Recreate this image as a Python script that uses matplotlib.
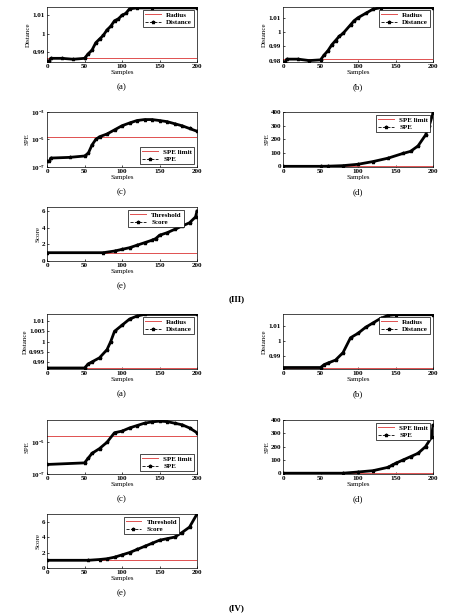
import matplotlib
matplotlib.use("Agg")
import matplotlib.pyplot as plt
import numpy as np

plt.rcParams['font.family'] = ['Liberation Serif', 'DejaVu Serif']
plt.rcParams['font.weight'] = 'bold'
plt.rcParams['font.size'] = 5

# ---- data (samples, values) ----
x_IIIa = [0, 3, 5, 20, 35, 50, 55, 60, 65, 70, 75, 80, 85, 90, 95, 100, 105, 110, 120, 140, 200]
d_IIIa = [0.985, 0.985, 0.9865, 0.9865, 0.986, 0.9865, 0.989, 0.991, 0.995, 0.997, 0.999, 1.002, 1.004, 1.007, 1.008, 1.010, 1.011, 1.0135, 1.014, 1.014, 1.014]
r_IIIa = 0.9866

x_IIIb = [0, 3, 5, 20, 35, 50, 55, 60, 65, 70, 75, 80, 90, 95, 100, 110, 120, 130, 200]
d_IIIb = [0.979, 0.979, 0.981, 0.981, 0.980, 0.9805, 0.984, 0.987, 0.991, 0.994, 0.997, 0.999, 1.005, 1.008, 1.010, 1.013, 1.016, 1.017, 1.017]
r_IIIb = 0.981

x_IIIc = [0, 3, 5, 30, 50, 55, 60, 65, 70, 80, 90, 100, 110, 120, 130, 140, 150, 160, 170, 180, 190, 200]
e_IIIc = [-6.6, -6.6, -6.35, -6.3, -6.2, -6.0, -5.4, -5.0, -4.8, -4.6, -4.3, -4.0, -3.8, -3.62, -3.55, -3.55, -3.62, -3.7, -3.85, -4.0, -4.2, -4.4]
lim_IIIc = -4.85

x_IIId = [0, 50, 60, 80, 100, 120, 140, 160, 170, 180, 190, 195, 200]
s_IIId = [0, 0, 1, 5, 15, 35, 60, 95, 110, 150, 230, 300, 390]
lim_IIId = 0

x_IIIe = [0, 75, 90, 100, 110, 120, 130, 140, 145, 150, 160, 170, 180, 190, 198, 200]
s_IIIe = [1, 1, 1.2, 1.4, 1.6, 1.9, 2.2, 2.5, 2.7, 3.1, 3.4, 3.8, 4.2, 4.6, 5.3, 6.0]
lim_IIIe = 1.0

x_IVa = [0, 50, 55, 60, 70, 80, 85, 90, 100, 110, 120, 130, 200]
d_IVa = [0.987, 0.987, 0.989, 0.990, 0.992, 0.996, 1.000, 1.005, 1.008, 1.011, 1.0125, 1.0133, 1.0133]
r_IVa = 0.987

x_IVb = [0, 50, 55, 60, 70, 80, 90, 100, 110, 120, 130, 140, 150, 200]
d_IVb = [0.982, 0.982, 0.984, 0.985, 0.987, 0.992, 1.002, 1.005, 1.009, 1.012, 1.015, 1.017, 1.0175, 1.0175]
r_IVb = 0.982

x_IVc = [0, 50, 55, 60, 70, 80, 90, 100, 110, 120, 130, 140, 150, 160, 170, 180, 190, 200]
e_IVc = [-6.4, -6.3, -6.0, -5.7, -5.4, -5.0, -4.4, -4.3, -4.1, -3.95, -3.8, -3.72, -3.67, -3.7, -3.8, -3.9, -4.1, -4.4]
lim_IVc = -4.58

x_IVd = [0, 80, 100, 120, 140, 145, 150, 160, 170, 180, 190, 198, 200]
s_IVd = [1, 1, 10, 20, 45, 60, 75, 100, 125, 150, 200, 270, 360]
lim_IVd = 0

x_IVe = [0, 55, 70, 80, 90, 100, 110, 120, 130, 140, 150, 160, 170, 180, 190, 200]
s_IVe = [1, 1, 1.1, 1.2, 1.4, 1.7, 2.0, 2.4, 2.8, 3.2, 3.6, 3.8, 4.0, 4.6, 5.3, 7.0]
lim_IVe = 1.0

W, H = 474, 616
fig = plt.figure(figsize=(W/100, H/100), dpi=100)

def ax_at(x0, y0, x1, y1):
    return fig.add_axes([x0/W, 1 - y1/H, (x1-x0)/W, (y1-y0)/H])

def panel(box, xs, ys, lim, ylabel, lname, sname, ylim, yticks, yticklabels=None,
          log=False, loc='upper right', anchor=None, letter=''):
    ax = ax_at(*box)
    xx = np.array(xs, float)
    yy = np.array(ys, float)
    if log:
        yy = 10**yy
        lim = 10**lim
    ax.plot([0, 200], [lim, lim], color='#e05050', lw=0.7, label=lname)
    ax.plot(xx, yy, color='black', lw=2.0, ls='-', marker='*', ms=2.5)
    ax.plot([], [], color='black', lw=0.6, ls='--', marker='*', ms=2.5, label=sname)
    if log:
        ax.set_yscale('log')
        ax.yaxis.set_minor_locator(matplotlib.ticker.NullLocator())
    ax.set_xlim(0, 200)
    ax.set_ylim(*ylim)
    ax.set_xticks([0, 50, 100, 150, 200])
    ax.set_yticks(yticks)
    if yticklabels is not None:
        ax.set_yticklabels(yticklabels)
    ax.tick_params(labelsize=5, length=1.5, width=0.5, pad=1.5, direction='in')
    ax.set_xlabel('Samples', fontsize=5, labelpad=1)
    ax.set_ylabel(ylabel, fontsize=5, labelpad=1)
    for s in ax.spines.values():
        s.set_linewidth(0.5)
    kw = dict(loc=loc)
    if anchor is not None:
        kw['bbox_to_anchor'] = anchor
    leg = ax.legend(fontsize=5, frameon=True, fancybox=False, framealpha=1,
                    edgecolor='black', borderpad=0.3, handlelength=2.2,
                    labelspacing=0.2, borderaxespad=0.4, **kw)
    leg.get_frame().set_linewidth(0.5)
    cx = (box[0] + box[2]) / 2
    fig.text(cx/W, 1 - (box[3] + 25)/H, letter, ha='center', va='center', fontsize=6.5, weight='normal')
    return ax

L = (47, 197); R = (283, 433)
# Group III
panel((L[0], 7, L[1], 62), x_IIIa, d_IIIa, r_IIIa, 'Distance', 'Radius', 'Distance',
      (0.9845, 1.0145), [0.99, 1.0, 1.01], ['0.99', '1', '1.01'], letter='(a)')
panel((R[0], 7, R[1], 62), x_IIIb, d_IIIb, r_IIIb, 'Distance', 'Radius', 'Distance',
      (0.979, 1.0175), [0.98, 0.99, 1.0, 1.01], ['0.98', '0.99', '1', '1.01'], letter='(b)')
panel((L[0], 112, L[1], 167), x_IIIc, e_IIIc, lim_IIIc, 'SPE', 'SPE limit', 'SPE',
      (1e-7, 1e-3), [1e-7, 1e-5, 1e-3], log=True, loc='lower right', letter='(c)')
panel((R[0], 112, R[1], 167), x_IIId, s_IIId, lim_IIId, 'SPE', 'SPE limit', 'SPE',
      (-5, 400), [0, 100, 200, 300, 400], letter='(d)')
panel((L[0], 207, L[1], 261), x_IIIe, s_IIIe, lim_IIIe, 'Score', 'Threshold', 'Score',
      (0, 6.5), [0, 2, 4, 6], loc='upper right', anchor=(0.93, 1.0), letter='(e)')
fig.text(237/W, 1 - 299/H, '(III)', ha='center', va='center', fontsize=6.5)

# Group IV
panel((L[0], 314, L[1], 369), x_IVa, d_IVa, r_IVa, 'Distance', 'Radius', 'Distance',
      (0.9865, 1.0135), [0.99, 0.995, 1.0, 1.005, 1.01], ['0.99', '0.995', '1', '1.005', '1.01'], letter='(a)')
panel((R[0], 314, R[1], 369), x_IVb, d_IVb, r_IVb, 'Distance', 'Radius', 'Distance',
      (0.981, 1.018), [0.99, 1.0, 1.01], ['0.99', '1', '1.01'], letter='(b)')
panel((L[0], 420, L[1], 474), x_IVc, e_IVc, lim_IVc, 'SPE', 'SPE limit', 'SPE',
      (1e-7, 10**-3.6), [1e-7, 1e-5], log=True, loc='lower right', letter='(c)')
panel((R[0], 420, R[1], 474), x_IVd, s_IVd, lim_IVd, 'SPE', 'SPE limit', 'SPE',
      (-5, 400), [0, 100, 200, 300, 400], letter='(d)')
panel((L[0], 514, L[1], 568), x_IVe, s_IVe, lim_IVe, 'Score', 'Threshold', 'Score',
      (0, 7), [0, 2, 4, 6], loc='upper right', anchor=(0.9, 1.0), letter='(e)')
fig.text(237/W, 1 - 608/H, '(IV)', ha='center', va='center', fontsize=6.5)

fig.savefig('out.png', dpi=100)
